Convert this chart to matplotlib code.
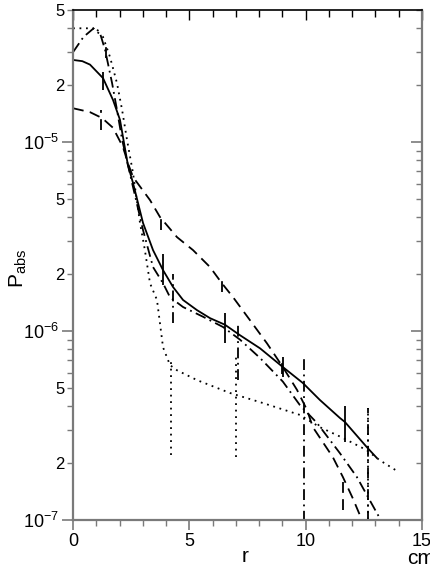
import numpy as np
import matplotlib
matplotlib.use('Agg')
import matplotlib.pyplot as plt
from matplotlib.ticker import LogLocator, FuncFormatter, MultipleLocator

plt.rcParams['font.family'] = ['Liberation Sans', 'DejaVu Sans']
plt.rcParams['mathtext.default'] = 'regular'

# solid curve
r_solid = [0, 0.4, 0.73, 1.29, 1.72, 2.02, 2.36, 2.58, 3.01, 3.44, 3.87, 4.30, 4.73, 5.33, 5.89,
           6.53, 7.18, 8.04, 9.02, 9.88, 10.61, 11.47, 11.69, 12.63, 13.06]
p_solid = [2.72e-5, 2.68e-5, 2.57e-5, 2.18e-5, 1.67e-5, 1.31e-5, 7.55e-6, 6.07e-6, 3.73e-6, 2.68e-6,
           2.10e-6, 1.71e-6, 1.46e-6, 1.29e-6, 1.17e-6, 1.08e-6, 9.5e-7, 8.1e-7, 6.45e-7,
           5.31e-7, 4.32e-7, 3.47e-7, 3.30e-7, 2.43e-7, 2.13e-7]
eb_solid_r = [1.29, 3.87, 6.53, 9.02, 11.69]
eb_solid_lo = [1.88e-5, 1.75e-6, 8.6e-7, 5.7e-7, 2.6e-7]
eb_solid_hi = [2.35e-5, 2.55e-6, 1.25e-6, 7.3e-7, 4.0e-7]

# dashed curve
r_dash = [0, 0.73, 1.25, 1.72, 2.15, 2.36, 2.58, 3.31, 3.74, 4.47, 5.16, 5.89, 6.40, 6.88,
          7.61, 8.34, 9.02, 9.63, 10.06, 10.31, 11.17, 11.6, 12.03, 12.42]
p_dash = [1.51e-5, 1.44e-5, 1.34e-5, 1.19e-5, 9.4e-6, 7.74e-6, 6.53e-6, 4.93e-6, 4.01e-6,
          3.14e-6, 2.68e-6, 2.18e-6, 1.79e-6, 1.51e-6, 1.14e-6, 8.6e-7, 6.45e-7, 4.88e-7,
          3.82e-7, 3.10e-7, 2.15e-7, 1.69e-7, 1.30e-7, 1.0e-7]
eb_dash_r = [1.2, 3.8, 6.4, 9.0, 11.6]
eb_dash_lo = [1.16e-5, 3.42e-6, 1.61e-6, 5.9e-7, 1.13e-7]
eb_dash_hi = [1.48e-5, 4.2e-6, 1.86e-6, 7.1e-7, 1.69e-7]

# dash-dot curve
r_dd = [0, 0.45, 0.95, 1.16, 1.38, 1.68, 1.89, 2.11, 2.58, 3.01, 3.44, 3.87, 4.17, 4.73,
        5.59, 6.45, 7.18, 8.04, 9.02, 9.75, 10.49, 11.47, 12.2, 13.19]
p_dd = [2.99e-5, 3.6e-5, 4.06e-5, 3.77e-5, 3.07e-5, 2.05e-5, 1.48e-5, 1.03e-5, 5.78e-6,
        3.42e-6, 2.18e-6, 1.79e-6, 1.51e-6, 1.34e-6, 1.19e-6, 1.05e-6, 9.0e-7, 7.2e-7,
        5.4e-7, 4.06e-7, 3.26e-7, 2.26e-7, 1.69e-7, 1.02e-7]
eb_dd_r = [1.4, 4.3, 7.1, 9.95, 12.7]
eb_dd_lo = [2.8e-5, 1.1e-6, 5.5e-7, 5e-8, 5e-8]
eb_dd_hi = [3.3e-5, 2.0e-6, 1.12e-6, 7.3e-7, 3.9e-7]

# dotted curve
r_dot = [0, 0.86, 1.29, 1.59, 1.89, 2.11, 2.32, 2.58, 2.88, 3.09, 3.31, 3.61, 3.87, 4.17,
         4.47, 5.33, 6.75, 8.16, 9.75, 10.61, 11.60, 12.63, 13.19, 13.92]
p_dot = [4.0e-5, 4.0e-5, 3.6e-5, 2.82e-5, 2.05e-5, 1.48e-5, 1.03e-5, 6.85e-6, 3.73e-6,
         2.68e-6, 1.79e-6, 1.46e-6, 8.2e-7, 6.6e-7, 6.2e-7, 5.5e-7, 4.7e-7, 4.16e-7,
         3.6e-7, 3.1e-7, 2.72e-7, 2.34e-7, 2.07e-7, 1.82e-7]
eb_dot_r = [4.2, 7.0, 12.7]
eb_dot_lo = [2.2e-7, 2.15e-7, 5e-8]
eb_dot_hi = [7.1e-7, 7.65e-7, 3.9e-7]

fig = plt.figure(figsize=(4.31, 5.64), dpi=100)
ax = fig.add_axes([0.1694, 0.078, 0.8096, 0.9043])

styles = [
    (r_solid, p_solid, eb_solid_r, eb_solid_lo, eb_solid_hi, '-'),
    (r_dash, p_dash, eb_dash_r, eb_dash_lo, eb_dash_hi, (0, (6, 3.5))),
    (r_dd, p_dd, eb_dd_r, eb_dd_lo, eb_dd_hi, (0, (6, 2.5, 1, 2.5))),
    (r_dot, p_dot, eb_dot_r, eb_dot_lo, eb_dot_hi, (0, (1, 2.6))),
]
for r, p, er, elo, ehi, ls in styles:
    ax.plot(r, p, color='black', linestyle=ls, linewidth=1.3)
    ax.vlines(er, elo, ehi, color='black', linestyle=ls, linewidth=1.3)

ax.set_yscale('log')
ax.set_xlim(0, 15)
ax.set_ylim(1e-7, 5e-5)

def yfmt(v, pos):
    e = int(np.floor(np.log10(v) + 1e-9))
    m = round(v / 10 ** e)
    if m == 1:
        return r'$10^{%d}$' % e
    if m in (2, 5):
        return '%d' % m
    return ''

ax.yaxis.set_major_locator(LogLocator(base=10, subs=(1.0,), numticks=10))
ax.yaxis.set_minor_locator(LogLocator(base=10, subs=np.arange(2, 10), numticks=20))
ax.yaxis.set_major_formatter(FuncFormatter(yfmt))
ax.yaxis.set_minor_formatter(FuncFormatter(yfmt))
ax.xaxis.set_major_locator(MultipleLocator(5))
ax.xaxis.set_minor_locator(MultipleLocator(1))

gray = '#7a7a7a'
for s in ['left', 'bottom', 'right']:
    ax.spines[s].set_color(gray)
    ax.spines[s].set_linewidth(1.6)
ax.spines['top'].set_color('black')
ax.spines['top'].set_linewidth(1.2)

ax.tick_params(axis='x', which='major', direction='out', length=7, width=1.2,
               color=gray, labelsize=13, pad=2, top=False)
ax.tick_params(axis='x', which='minor', direction='out', length=4, width=1.0,
               color=gray, top=False)
ax.tick_params(axis='y', which='major', direction='out', length=8, width=1.2,
               color=gray, labelsize=13, pad=2)
ax.tick_params(axis='y', which='minor', direction='out', length=4, width=1.0,
               color=gray, labelsize=12, pad=2)

# top axis ticks (inward)
axt = ax.secondary_xaxis('top')
axt.xaxis.set_major_locator(MultipleLocator(5))
axt.xaxis.set_minor_locator(MultipleLocator(1))
axt.tick_params(which='major', direction='in', length=7, width=1.0, color='black',
                labeltop=False)
axt.tick_params(which='minor', direction='in', length=5, width=1.0, color='black')
axt.spines['top'].set_visible(False)

# right axis ticks (inward)
axr = ax.secondary_yaxis('right')
axr.yaxis.set_major_locator(LogLocator(base=10, subs=(1.0,), numticks=10))
axr.yaxis.set_minor_locator(LogLocator(base=10, subs=np.arange(2, 10), numticks=20))
axr.tick_params(which='major', direction='in', length=8, width=1.2, color=gray,
                labelright=False)
axr.tick_params(which='minor', direction='in', length=4, width=1.0, color=gray,
                labelright=False)
axr.spines['right'].set_visible(False)

fig.text(245 / 431, 1 - 556 / 564, 'r', fontsize=15, ha='center', va='center')
fig.text(407 / 431, 1 - 558 / 564, 'cm', fontsize=15, ha='left', va='center')
fig.text(18 / 431, 1 - 268 / 564, r'$P_{abs}$', fontsize=15, rotation=90,
         ha='center', va='center')

fig.savefig('out.png', dpi=100)
